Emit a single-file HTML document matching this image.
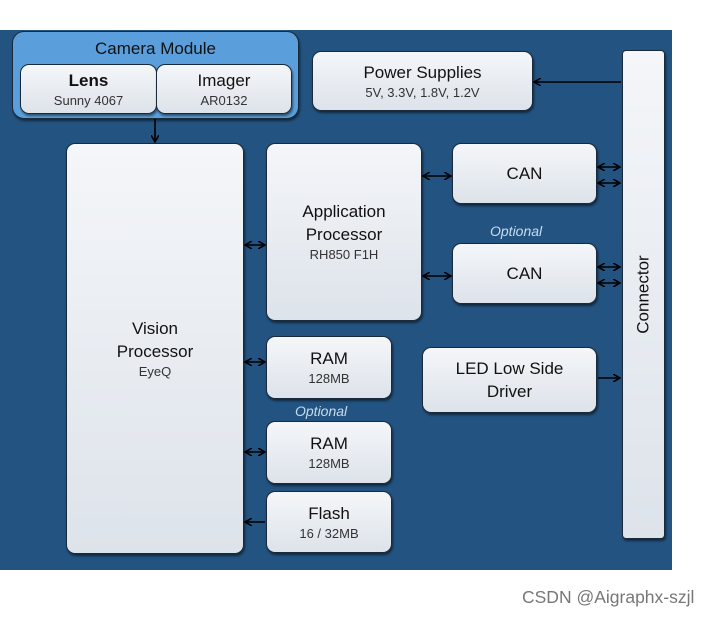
<!DOCTYPE html>
<html><head><style>
body{margin:0;width:710px;height:617px;background:#fff;position:relative;overflow:hidden;font-family:"Liberation Sans","DejaVu Sans",sans-serif}
.bg{position:absolute;left:0;top:30px;width:672px;height:540px;background:#235381}
.b{position:absolute;box-sizing:border-box;background:linear-gradient(#f4f6f9,#dde3ea);border:1.5px solid #1a2a3a;border-radius:9px;box-shadow:1px 2px 2px rgba(0,0,0,.5);display:flex;flex-direction:column;align-items:center;justify-content:center;color:#111;text-align:center}
.t{font-size:17px;line-height:23px}
.s{font-size:13px;color:#333;line-height:18px}
.o{position:absolute;color:#c8dcef;font-style:italic;font-size:14px}
svg{position:absolute;left:0;top:0}
</style></head><body>
<div class="bg"></div>
<div class="b" style="left:12px;top:31px;width:287px;height:88px;background:#5a9fdc;border-radius:12px;justify-content:flex-start"><div class="t" style="margin-top:5px">Camera Module</div></div>
<div class="b" style="left:20px;top:64px;width:137px;height:50px"><div class="t" style="font-weight:bold">Lens</div><div class="s">Sunny 4067</div></div>
<div class="b" style="left:156px;top:64px;width:136px;height:50px"><div class="t">Imager</div><div class="s">AR0132</div></div>
<div class="b" style="left:312px;top:51px;width:221px;height:60px"><div class="t">Power Supplies</div><div class="s">5V, 3.3V, 1.8V, 1.2V</div></div>
<div class="b" style="left:622px;top:50px;width:43px;height:489px;border-radius:4px"><div class="t" style="transform:rotate(-90deg);white-space:nowrap">Connector</div></div>
<div class="b" style="left:66px;top:143px;width:178px;height:411px"><div class="t">Vision<br>Processor</div><div class="s">EyeQ</div></div>
<div class="b" style="left:266px;top:143px;width:156px;height:178px"><div class="t">Application<br>Processor</div><div class="s">RH850 F1H</div></div>
<div class="b" style="left:452px;top:143px;width:145px;height:61px"><div class="t">CAN</div></div>
<div class="o" style="left:490px;top:223px">Optional</div>
<div class="b" style="left:452px;top:243px;width:145px;height:61px"><div class="t">CAN</div></div>
<div class="b" style="left:422px;top:347px;width:175px;height:66px"><div class="t">LED Low Side<br>Driver</div></div>
<div class="b" style="left:266px;top:336px;width:126px;height:63px"><div class="t">RAM</div><div class="s">128MB</div></div>
<div class="o" style="left:295px;top:403px">Optional</div>
<div class="b" style="left:266px;top:421px;width:126px;height:63px"><div class="t">RAM</div><div class="s">128MB</div></div>
<div class="b" style="left:266px;top:491px;width:126px;height:62px"><div class="t">Flash</div><div class="s">16 / 32MB</div></div>
<svg width="710" height="617">
<defs><marker id="a" markerWidth="8" markerHeight="8" refX="7" refY="4" orient="auto-start-reverse" markerUnits="userSpaceOnUse"><path d="M0,0 L7,4 L0,8" fill="none" stroke="#000" stroke-width="1.6"/></marker></defs>
<g stroke="#000" stroke-width="1.6" fill="none">
<line x1="155" y1="119" x2="155" y2="142" marker-end="url(#a)"/>
<line x1="621" y1="82" x2="534" y2="82" marker-end="url(#a)"/>
<line x1="245" y1="245" x2="265" y2="245" marker-start="url(#a)" marker-end="url(#a)"/>
<line x1="245" y1="362" x2="265" y2="362" marker-start="url(#a)" marker-end="url(#a)"/>
<line x1="245" y1="452" x2="265" y2="452" marker-start="url(#a)" marker-end="url(#a)"/>
<line x1="265" y1="522" x2="245" y2="522" marker-end="url(#a)"/>
<line x1="423" y1="176" x2="451" y2="176" marker-start="url(#a)" marker-end="url(#a)"/>
<line x1="423" y1="276" x2="451" y2="276" marker-start="url(#a)" marker-end="url(#a)"/>
<line x1="598" y1="167" x2="620" y2="167" marker-start="url(#a)" marker-end="url(#a)"/>
<line x1="598" y1="183" x2="620" y2="183" marker-start="url(#a)" marker-end="url(#a)"/>
<line x1="598" y1="267" x2="620" y2="267" marker-start="url(#a)" marker-end="url(#a)"/>
<line x1="598" y1="283" x2="620" y2="283" marker-start="url(#a)" marker-end="url(#a)"/>
<line x1="598" y1="378" x2="620" y2="378" marker-end="url(#a)"/>
</g></svg>
<div style="position:absolute;left:522px;top:587px;font-size:17.5px;color:#777">CSDN @Aigraphx-szjl</div>
</body></html>
